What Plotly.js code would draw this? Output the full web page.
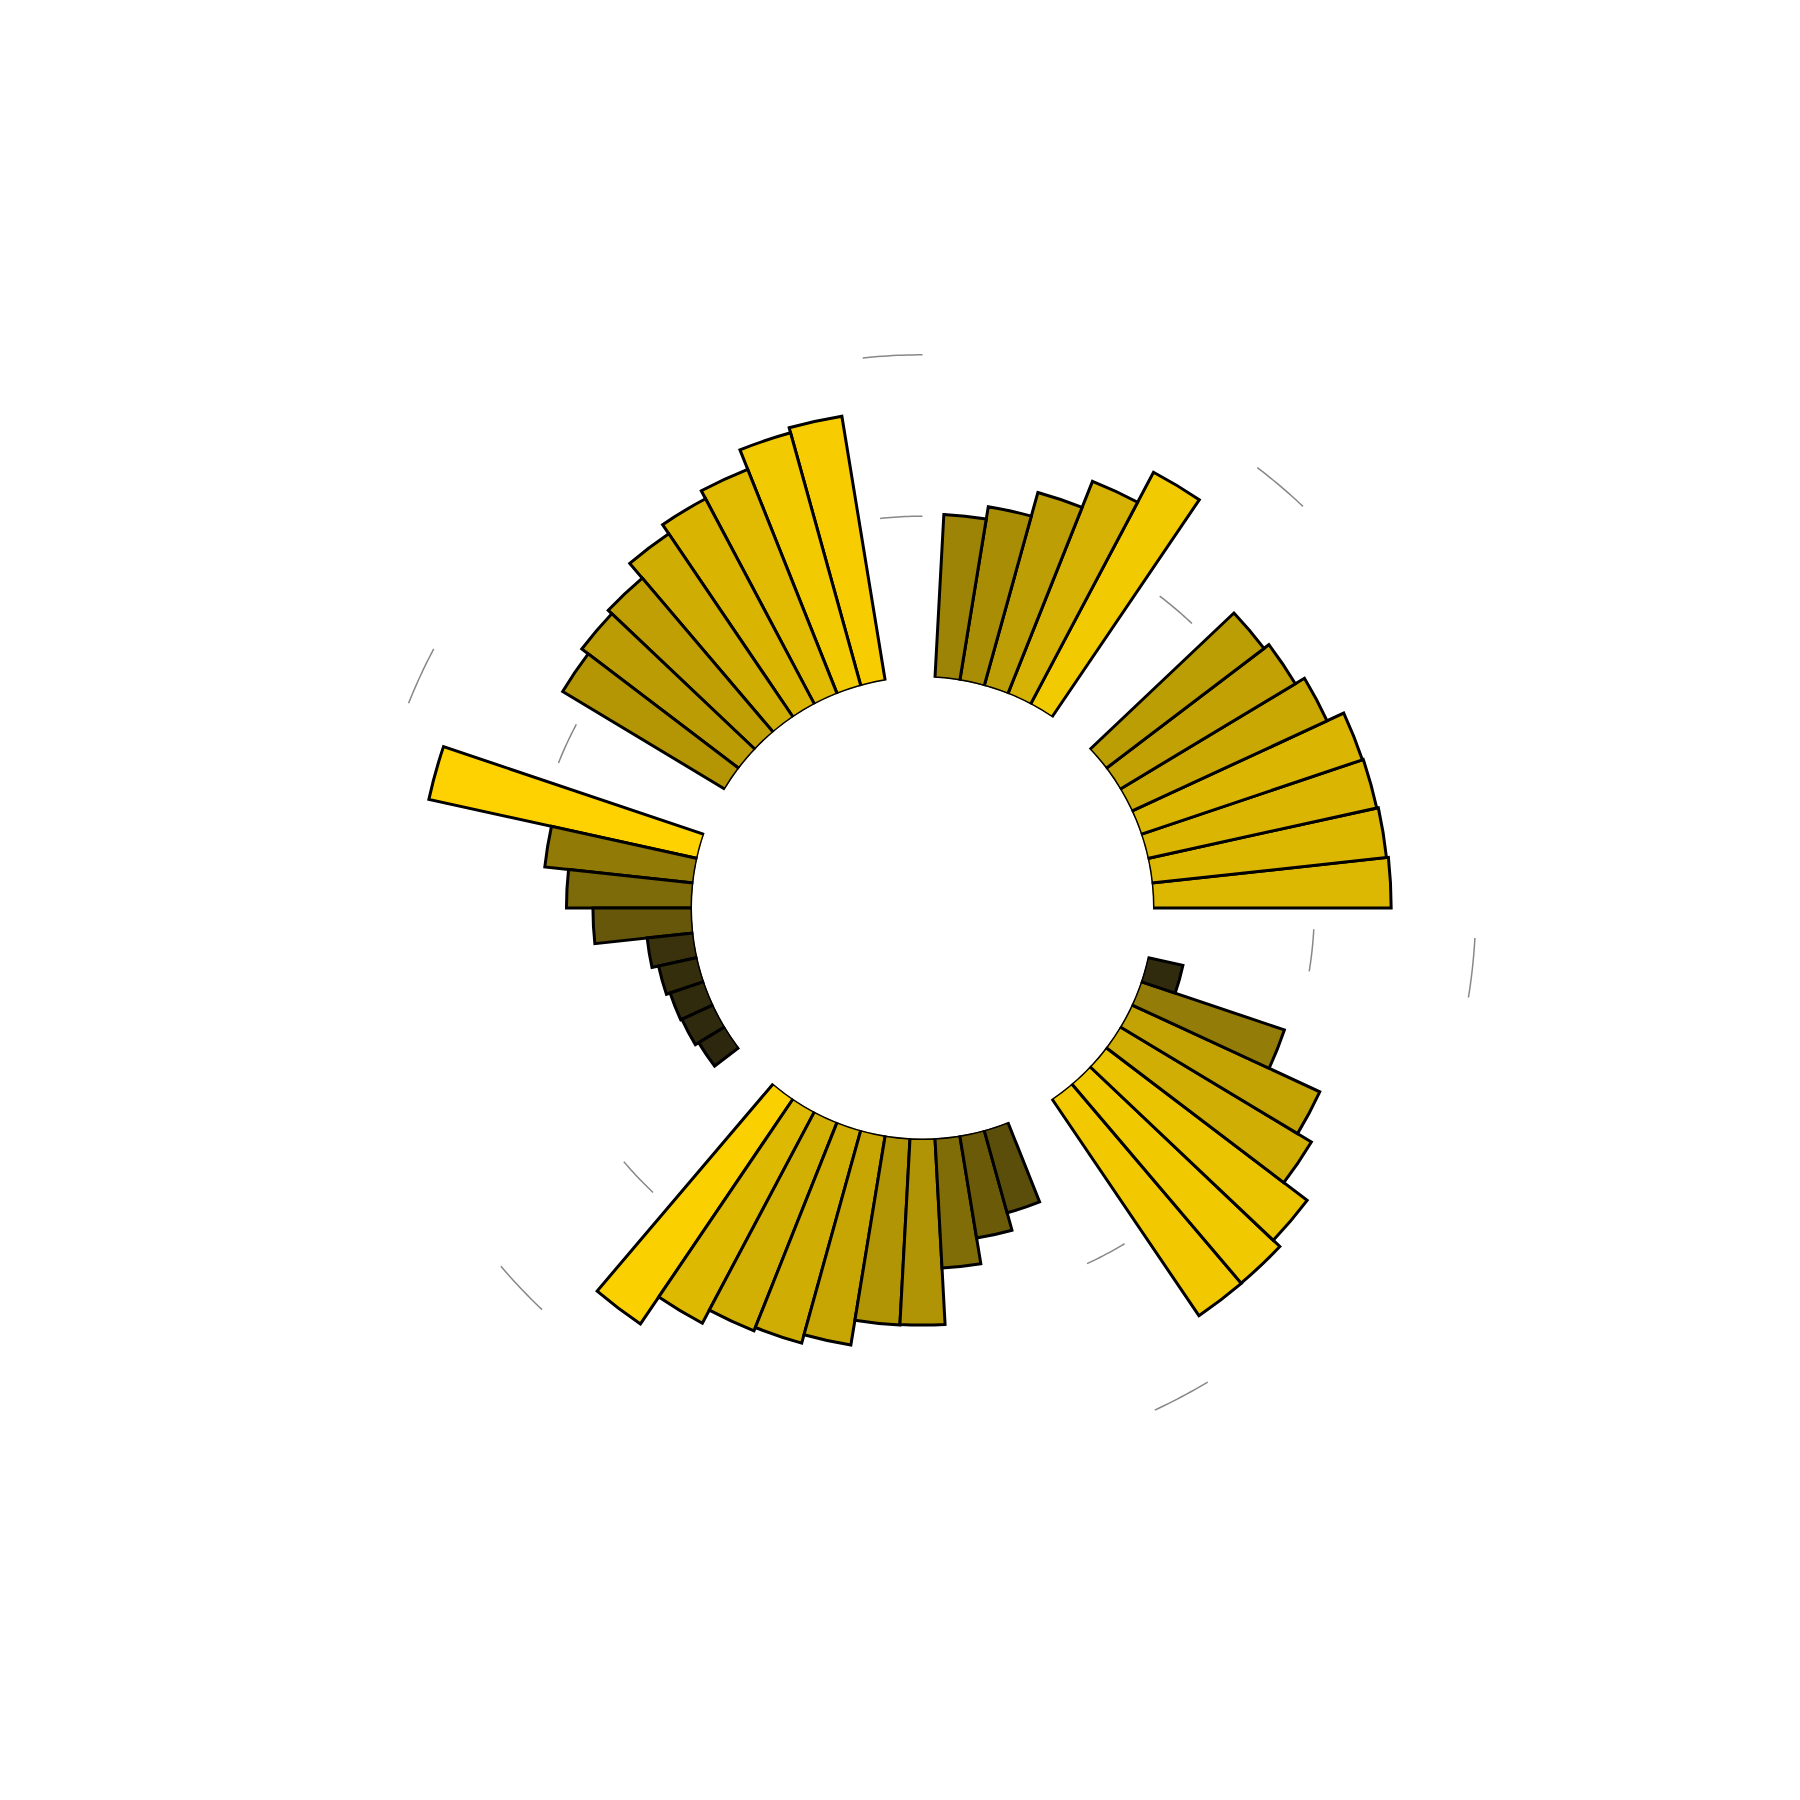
<!DOCTYPE html>
<html>
<head>
<meta charset="utf-8">
<script src="https://cdn.plot.ly/plotly-3.0.1.min.js"></script>
<style>
  html, body { margin: 0; padding: 0; background: #fff; }
  #chart { width: 1800px; height: 1800px; }
</style>
</head>
<body>
<div id="chart"></div>
<script>
// Bar heights per group, in angular order (counter-clockwise from 3 o'clock)
const groupA = [73.8, 73.2, 72.7, 72.4, 66.7, 63.4, 61.5];
const groupB = [81.4, 70.9, 62.2, 54.6, 50.7];
const groupC = [83.0, 81.4, 74.9, 72.1, 68.7, 62.7, 61.2, 58.7];
const groupD = [85.2, 46.3, 38.9, 30.7, 14.4, 12.3, 11.1, 10.7, 9.5];
const groupE = [84.3, 74.2, 69.6, 68.5, 65.8, 58.0, 57.8, 40.3, 32.2, 26.6];
const groupF = [81.2, 81.1, 78.3, 69.2, 64.2, 46.9, 11.2];
const groups = [groupA, groupB, groupC, groupD, groupE, groupF];

// radial values where the short grid arcs sit inside each gap
const gridValues = [50, 100];
const emptySlots = 2; // empty bar slots after each group

// --- slot layout: every bar and every empty slot takes the same angle
const nSlots = groups.reduce((s, g) => s + g.length + emptySlots, 0);
const slotDeg = 360 / nSlots;

const theta = [];
const r = [];
const gapCenters = [];
let slot = 0;
groups.forEach((g) => {
  g.forEach((v) => {
    theta.push((slot + 0.5) * slotDeg);
    r.push(v);
    slot++;
  });
  // grid arc goes from the centre of the first empty slot to the centre of the second
  gapCenters.push((slot + 1) * slotDeg);
  slot += emptySlots;
});

const traces = [];

// 1) grid arcs, only inside the gaps between groups
gridValues.forEach((gv) => {
  gapCenters.forEach((c) => {
    const th = [];
    const rr = [];
    for (let k = 0; k <= 12; k++) {
      th.push(c - slotDeg / 2 + (k / 12) * slotDeg);
      rr.push(gv);
    }
    traces.push({
      type: 'scatterpolar',
      mode: 'lines',
      theta: th,
      r: rr,
      line: { color: '#888888', width: 1.5 },
      hoverinfo: 'skip',
      showlegend: false,
    });
  });
});

// 2) the bars, coloured by height (dark olive -> gold)
traces.push({
  type: 'barpolar',
  theta: theta,
  r: r,
  width: theta.map(() => slotDeg),
  marker: {
    color: r,
    colorscale: [[0, '#12120f'], [1, '#ffd400']],
    cmin: 0,
    cmax: 86,
    line: { color: '#000', width: 3 },
  },
  showlegend: false,
});

// polar placement: centre at (922.5, 908) px, outer radius 600 px, hole 230.5 px
const layout = {
  width: 1800,
  height: 1800,
  paper_bgcolor: '#fff',
  margin: { t: 0, r: 0, b: 0, l: 0 },
  showlegend: false,
  polar: {
    domain: { x: [322.5 / 1800, 1522.5 / 1800], y: [292 / 1800, 1492 / 1800] },
    bgcolor: '#fff',
    hole: 230.5 / 600,
    bargap: 0,
    radialaxis: {
      range: [0, 114.5],
      visible: false,
      showgrid: false,
    },
    angularaxis: {
      rotation: 0,
      direction: 'counterclockwise',
      showgrid: false,
      showline: false,
      showticklabels: false,
      ticks: '',
    },
  },
};

Plotly.newPlot('chart', traces, layout, { displayModeBar: false, staticPlot: true });
</script>
</body>
</html>
